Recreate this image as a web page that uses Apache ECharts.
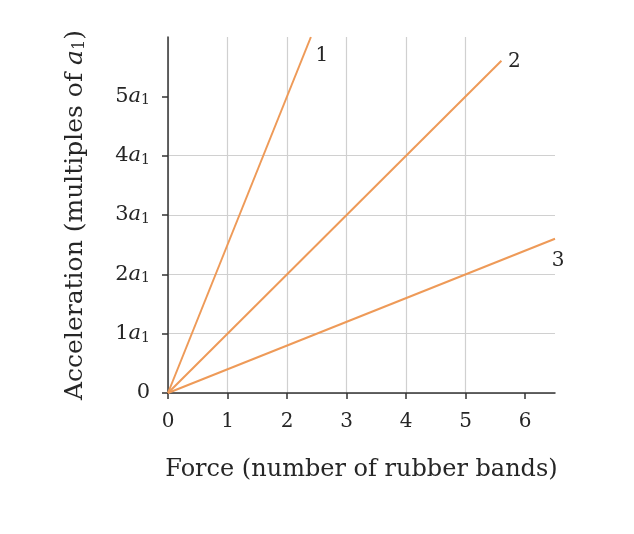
<!DOCTYPE html>
<html><head><meta charset="utf-8">
<script src="https://cdn.jsdelivr.net/npm/echarts@6/dist/echarts.min.js"></script>
<style>html,body{margin:0;padding:0;background:#fff}#c{width:634px;height:534px}</style>
</head><body><div id="c"></div>
<script>
const lineNames = ['1', '2', '3'];
const lineEndX = [2.4, 5.6, 6.5];
const lineEndY = [6, 5.6, 2.6];
const xTicks = [0, 1, 2, 3, 4, 5, 6];
const yTicks = [0, 1, 2, 3, 4, 5];
const labelOffsets = [[11, 19], [13, 1], [3, 22]];

const FONT = '"DejaVu Serif", "Liberation Serif", serif';
const ORANGE = '#EE9A58';
const TXT = '#262626';
const chart = echarts.init(document.getElementById('c'));

const series = lineNames.map((n, i) => ({
  type: 'line',
  name: n,
  symbol: 'circle',
  symbolSize: 2,
  showSymbol: true,
  clip: false,
  silent: true,
  itemStyle: { color: 'rgba(0,0,0,0)', borderWidth: 0 },
  lineStyle: { color: ORANGE, width: 2 },
  label: { show: false },
  data: [
    { value: [0, 0] },
    { value: [lineEndX[i], lineEndY[i]],
      label: { show: true, formatter: n, position: 'inside', offset: labelOffsets[i],
               fontFamily: FONT, fontSize: 20, color: TXT } }
  ]
}));

chart.setOption({
  animation: false,
  grid: { left: 168, right: 79, top: 37, bottom: 141, containLabel: false },
  xAxis: {
    type: 'value', min: 0, max: 6.5, interval: 1,
    name: 'Force (number of rubber bands)', nameLocation: 'middle', nameGap: 65,
    nameMoveOverlap: false,
    nameTextStyle: { fontFamily: FONT, fontSize: 24, color: TXT },
    axisLine: { show: true, lineStyle: { color: '#333', width: 1.5 } },
    axisTick: { show: true, length: 6, inside: false, customValues: xTicks, lineStyle: { color: '#333', width: 1.5 } },
    axisLabel: { customValues: xTicks, margin: 19, fontFamily: FONT, fontSize: 20, color: TXT },
    splitLine: { show: true, showMaxLine: false, lineStyle: { color: '#d0d0d0', width: 1.2 } }
  },
  yAxis: {
    type: 'value', min: 0, max: 6, interval: 1,
    name: 'Acceleration (multiples of {i|a}{s|1})', nameLocation: 'middle', nameGap: 80, nameRotate: 90,
    nameMoveOverlap: false,
    nameTextStyle: { fontFamily: FONT, fontSize: 25, color: TXT,
      rich: { i: { fontFamily: FONT, fontSize: 25, fontStyle: 'italic', color: TXT },
              s: { fontFamily: FONT, fontSize: 16, color: TXT, padding: [10, 0, 0, 0] } } },
    axisLine: { show: true, lineStyle: { color: '#333', width: 1.5 } },
    axisTick: { show: true, length: 6, customValues: yTicks, lineStyle: { color: '#333', width: 1.5 } },
    axisLabel: {
      customValues: yTicks, margin: 18,
      fontFamily: FONT, fontSize: 21, color: TXT,
      formatter: v => v === 0 ? '{n|0}' : '{n|' + v + '}{i|a}{s|1}',
      rich: {
        n: { fontFamily: FONT, fontSize: 21, color: TXT },
        i: { fontFamily: FONT, fontSize: 21, fontStyle: 'italic', color: TXT },
        s: { fontFamily: FONT, fontSize: 14, color: TXT, padding: [9, 0, 0, 0] }
      }
    },
    splitLine: { show: true, showMaxLine: false, lineStyle: { color: '#d0d0d0', width: 1.2 } }
  },
  series: series
});
</script></body></html>
